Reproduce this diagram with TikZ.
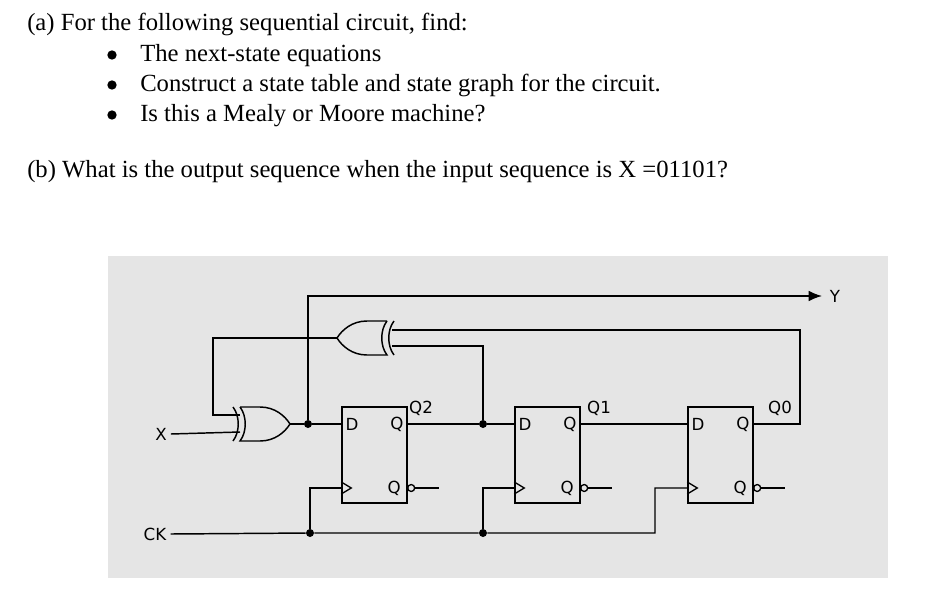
\documentclass[tikz,border=0pt]{standalone}
\usepackage{fontspec}
\setmainfont{Liberation Serif}
\newfontfamily\lblfont{DejaVu Sans}
\usetikzlibrary{arrows.meta}
\begin{document}
\begin{tikzpicture}[x=0.75pt,y=-0.75pt,
  txt/.style={anchor=base west,inner sep=0pt,font=\fontsize{18.5}{20}\selectfont},
  lbl/.style={inner sep=0pt,font=\lblfont\fontsize{12.5}{13}\selectfont},
  wire/.style={line width=1.1pt},
  box/.style={draw,line width=1.1pt,minimum width=48.75pt,minimum height=72pt,inner sep=0pt},
  dot/.style={circle,fill,inner sep=0pt,minimum size=6pt},
  pics/xorg/.style={code={
    \draw[line width=1.1pt,fill=black!10] (-25,-17) -- (-5,-17) .. controls (10,-17) and (20,-8) .. (25,0)
       .. controls (20,8) and (10,17) .. (-5,17) -- (-25,17) .. controls (-18,8) and (-18,-8) .. (-25,-17);
    \draw[line width=1.1pt] (-32,-17) .. controls (-25,-8) and (-25,8) .. (-32,17);
  }}]
\useasboundingbox (0,0) rectangle (928,596);
\fill[black!10] (108,256) rectangle (888,578);
% text
\node[txt] (t1) at (27,31) {(a) For the following sequential circuit, find:};
\foreach \yy/\tt [count=\i] in {61/The next-state equations,91/Construct a state table and state graph for the circuit.,121/Is this a Mealy or Moore machine?}{
  \node[dot,minimum size=7pt] (bul\i) at (112,\yy-6) {};
  \node[txt] (b\i) at (140,\yy) {\tt};
}
\node[txt] (t2) at (27,177) {(b) What is the output sequence when the input sequence is X =01101?};
% gates
\pic at (265,424) {xorg};
\pic[xscale=-1] at (362,338) {xorg};
% flip flops
\node[box] (ff2) at (374.5,455) {};
\node[box] (ff1) at (547.5,455) {};
\node[box] (ff0) at (720.5,455) {};
\foreach \f in {ff2,ff1,ff0}{
  \node[lbl,anchor=west] at ([xshift=3pt]\f.west |- 0,424) {D};
  \node[lbl,anchor=east] at ([xshift=-3pt]\f.east |- 0,424) {Q};
  \node[lbl,anchor=east] at ([xshift=-5pt]\f.east |- 0,488) {Q};
  \draw[line width=1pt] (\f.west |- 0,482) -- ([xshift=7.5pt]\f.west |- 0,488) -- (\f.west |- 0,494);
  \draw[line width=1pt] ([xshift=2.6pt]\f.east |- 0,488) circle (2.6pt);
  \draw[wire] ([xshift=5.2pt]\f.east |- 0,488) -- ++(18pt,0);
}
\node[lbl] (q2) at (421,408) {Q2};
\node[lbl] (q1) at (599,408) {Q1};
\node[lbl] (q0) at (780,408) {Q0};
\node[lbl] (X) at (161,434) {X};
\node[lbl] (CK) at (155,534) {CK};
\node[lbl] (Y) at (835,296) {Y};
% junctions
\node[dot] (j1) at (308,424) {};
\node[dot] (j2) at (483,424) {};
\node[dot] (c1) at (310,533) {};
\node[dot] (c2) at (483,533) {};
\coordinate (yend) at (822,296);
% wires
\draw[wire] (290,424) -- (j1) -- (ff2.west |- j1);
\draw[wire,-{Latex[length=10pt,width=8pt]}] (j1) -- (308,296) -- (yend);
\draw[wire] (ff2.east |- j2) -- (j2) -- (ff1.west |- j2);
\draw[wire] (ff1.east |- j2) -- (ff0.west |- j2);
\draw[wire] (ff0.east |- j2) -- (800,424) -- (800,330) -- (392,330);
\draw[wire] (j2) -- (483,346) -- (392,346);
\draw[wire] (337,338) -- (213,338) -- (213,415) -- (240,415);
\draw[wire] (X.east) ++(4,0) -- (240,432);
\draw[wire] (CK.east) ++(4,0) -- (c1) -- (c2) -- (655,533) -- (655,488) -- (ff0.west |- 0,488);
\draw[wire] (c1) -- (310,488) -- (ff2.west |- 0,488);
\draw[wire] (c2) -- (483,488) -- (ff1.west |- 0,488);
\end{tikzpicture}
\end{document}
